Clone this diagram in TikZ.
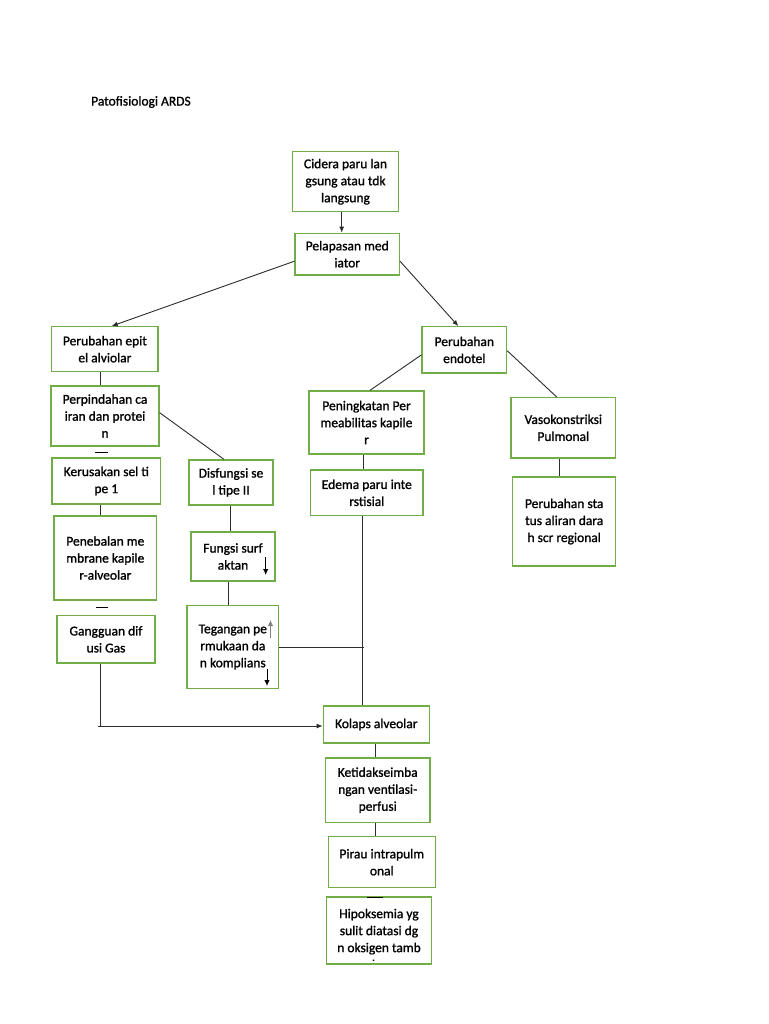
\documentclass[tikz,border=0pt]{standalone}
\usepackage{fontspec}
\setmainfont{Carlito}[FakeBold=1.2]
\usetikzlibrary{arrows.meta}
\definecolor{boxgreen}{RGB}{112,173,71}
\definecolor{linegray}{RGB}{45,45,45}
\begin{document}
\begin{tikzpicture}[x=1pt,y=-1pt,
  box/.style={draw=boxgreen, line width=1.3pt, fill=white, inner sep=0pt, align=center,
              font=\fontsize{13.5}{17}\selectfont},
  txt/.style={inner sep=0pt, align=center, font=\fontsize{13.5}{17}\selectfont},
  conn/.style={draw=linegray, line width=0.9pt},
  arr/.style={conn, -{Latex[length=6pt,width=5pt]}},
  mini/.style={draw=black, line width=1pt, -{Latex[length=6pt,width=5.5pt]}}]
\fill[white] (0,0) rectangle (768,1024);
\useasboundingbox (0,0) rectangle (768,1024);

\node[txt, anchor=west] (title) at (91,102) {Patofisiologi ARDS};

% boxes
\node[box, minimum width=105.6pt, minimum height=60pt] (cid) at (345.5,181.7) {Cidera paru lan\\gsung atau tdk\\langsung};
\node[box, minimum width=104.3pt, minimum height=41.7pt] (pel) at (347.2,254.2) {Pelapasan med\\iator};
\node[box, minimum width=106.3pt, minimum height=45pt] (epi) at (104.9,349.2) {Perubahan epit\\el alviolar};
\node[box, minimum width=84.5pt, minimum height=46.3pt] (endo) at (464.3,349.9) {Perubahan\\endotel};
\node[box, minimum width=108pt, minimum height=60pt] (perp) at (105,416) {Perpindahan ca\\iran dan protei\\n};
\node[box, minimum width=108.7pt, minimum height=46pt] (ker) at (106.3,481) {Kerusakan sel ti\\pe 1};
\node[box, minimum width=102.7pt, minimum height=84pt] (pen) at (105.3,558) {Penebalan me\\mbrane kapile\\r-alveolar};
\node[box, minimum width=98pt, minimum height=47.3pt] (gang) at (106,639.3) {Gangguan dif\\usi Gas};
\node[box, minimum width=84pt, minimum height=45pt] (dis) at (231,482.5) {Disfungsi se\\l tipe II};
\node[box, minimum width=84pt, minimum height=49pt] (fung) at (233,556.5) {Fungsi surf\\aktan};
\node[box, minimum width=91.7pt, minimum height=83pt] (teg) at (232.8,647) {Tegangan pe\\rmukaan da\\n komplians};
\node[box, minimum width=115pt, minimum height=63pt] (pening) at (366.5,422.5) {Peningkatan Per\\meabilitas kapile\\r};
\node[box, minimum width=112.3pt, minimum height=45.7pt] (edema) at (366.8,492.8) {Edema paru inte\\rstisial};
\node[box, minimum width=104.7pt, minimum height=60.3pt] (vaso) at (563.3,427.8) {Vasokonstriksi\\Pulmonal};
\node[box, minimum width=103pt, minimum height=89pt] (stat) at (564.2,521.5) {Perubahan sta\\tus aliran dara\\h scr regional};
\node[box, minimum width=106pt, minimum height=37pt] (kol) at (376.3,724.5) {Kolaps alveolar};
\node[box, minimum width=104.7pt, minimum height=64.3pt] (keti) at (377.7,790.2) {Ketidakseimba\\ngan ventilasi-\\perfusi};
\node[box, minimum width=107pt, minimum height=51pt] (pirau) at (381.8,862.2) {Pirau intrapulm\\onal};
\node[box, minimum width=104.6pt, minimum height=67pt] (hip) at (379,930.5) {};
\begin{scope}
  \clip (326.7,897.7) rectangle (431.3,960);
  \node[txt] (hiptext) at (379,939) {Hipoksemia yg\\sulit diatasi dg\\n oksigen tamb\\ahan};
\end{scope}

% small arrows inside boxes
\draw[mini] (265.7,557) -- (265.7,575);
\draw[mini, draw=gray] (270.5,638) -- (270.5,620);
\draw[mini] (267,669) -- (267,686);

% connectors
\draw[arr] ([xshift=-3.8pt]cid.south) -- ([xshift=-5.5pt]pel.north);
\draw[arr] ([yshift=-7pt]pel.west) -- ([xshift=6.8pt]epi.north);
\draw[arr] ([yshift=-7pt]pel.east) -- ([xshift=-6pt]endo.north);
\draw[conn] ([xshift=-4.2pt]epi.south) -- ([xshift=-4.3pt]perp.north);
\draw[conn] ([yshift=3.3pt]perp.east) -- ([xshift=-7pt]dis.north);
\draw[conn] ([xshift=-5.6pt]ker.south) -- ([xshift=-4.6pt]pen.north);
\draw[conn] ([xshift=-1pt]dis.south) -- ([xshift=-3pt]fung.north);
\draw[conn] ([xshift=-4.3pt]fung.south) -- ([xshift=-4.1pt]teg.north);
\draw[conn] ([yshift=-5pt]endo.west) -- ([xshift=3.5pt]pening.north);
\draw[conn] ([yshift=-0.8pt]endo.east) -- ([xshift=-6.6pt]vaso.north);
\draw[conn] ([xshift=-2.8pt]pening.south) -- ([xshift=-3.1pt]edema.south |- edema.north);
\draw[conn] ([xshift=-4.3pt]vaso.south) -- ([xshift=-5.2pt]stat.north);
\draw[conn] ([xshift=-4.1pt]edema.south) -- ([xshift=-13.6pt]kol.north);
\coordinate (tj) at (364,647.7);
\draw[conn] ([yshift=-0.7pt]teg.east) -- (tj);
\coordinate (gc) at (100,726);
\coordinate (gs) at (98,726);
\draw[conn] ([xshift=-6pt]gang.south) -- (gc);
\draw[arr] (gs) -- ([yshift=-1.5pt]kol.west);
\draw[conn] ([xshift=-0.6pt]kol.south) -- ([xshift=-2pt]keti.north);
\draw[conn] ([xshift=-2pt]keti.south) -- ([xshift=-6.1pt]pirau.north);

% short dashes
\coordinate (d1a) at (95,452); \coordinate (d1b) at (108,452);
\draw[conn, draw=black] (d1a) -- (d1b);
\coordinate (d2a) at (96,607); \coordinate (d2b) at (108,607);
\draw[conn, draw=black] (d2a) -- (d2b);
\coordinate (d3a) at (367,897.5); \coordinate (d3b) at (383,897.5);
\draw[conn, draw=black, line width=1pt] (d3a) -- (d3b);
\end{tikzpicture}
\end{document}
